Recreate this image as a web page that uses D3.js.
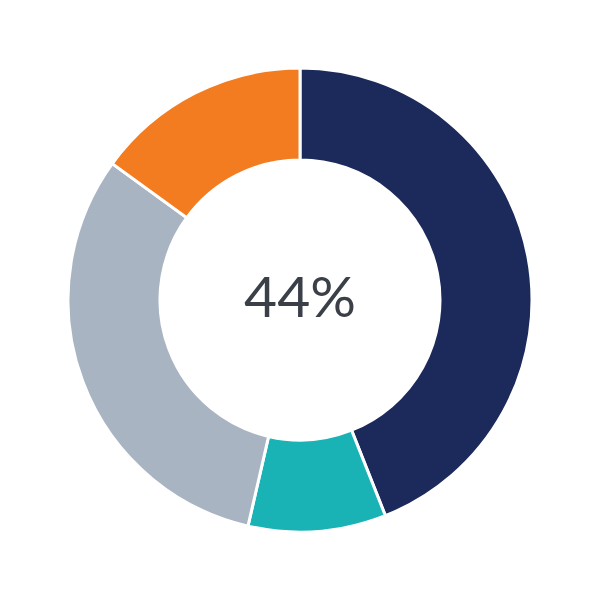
<!DOCTYPE html>
<html>
<head>
<meta charset="utf-8">
<script src="https://cdn.jsdelivr.net/npm/d3@7"></script>
<style>
  body { margin: 0; background: #fff; }
</style>
</head>
<body>
<div id="chart-area"></div>
<script>
// slice data, clockwise from 12 o'clock
let categories = ["A", "B", "C", "D"];
let values = [44, 9.6, 31.4, 15];
let colors = ["#1b2a5a", "#1ab3b5", "#a9b4c2", "#f37c21"];
let centerLabel = "44%";

let width = 600, height = 600;
let outerR = 232, innerR = 140;

let svg = d3.select("#chart-area")
  .append("svg")
  .attr("width", width)
  .attr("height", height)
  .append("g")
  .attr("transform", "translate(" + 300 + "," + 300 + ")");

let data = categories.map(function(c, i) { return {cat: c, value: values[i]}; });

let pie = d3.pie()
  .sort(null)
  .value(function(d) { return d.value; });

let arc = d3.arc()
  .innerRadius(innerR)
  .outerRadius(outerR);

svg.selectAll(".slice")
  .data(pie(data))
  .enter()
  .append("path")
  .attr("class", "slice")
  .attr("d", arc)
  .attr("fill", function(d, i) { return colors[i]; })
  .attr("stroke", "#fff")
  .attr("stroke-width", 3);

// big number in the middle
svg.append("text")
  .attr("x", 0)
  .attr("y", 17)
  .attr("text-anchor", "middle")
  .style("font-family", "Lato, 'Open Sans', sans-serif")
  .style("font-weight", 400)
  .style("font-size", "57px")
  .style("fill", "#3a3f48")
  .text(centerLabel);
</script>
</body>
</html>
